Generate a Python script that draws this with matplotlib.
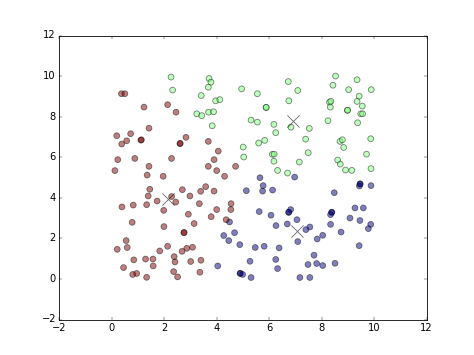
import matplotlib
matplotlib.use("Agg")
import matplotlib.pyplot as plt
import numpy as np

plt.style.use('classic')

red_x = [0.37, 0.50, 1.23, 2.13, 2.45, 1.42, 0.72, 0.19, 0.57, 0.38, 1.11, 1.13, 2.60, 2.61,
         2.83, 0.23, 0.88, 2.28, 1.42, 0.12, 1.35, 1.96, 3.68, 4.06, 3.90, 3.68, 4.00, 4.30,
         4.72, 1.45, 1.39, 1.73, 2.28, 2.44, 2.69, 2.98, 3.39, 3.58, 3.90, 3.34, 0.39, 0.82,
         1.33, 1.98, 2.92, 4.00, 3.79, 0.78, 3.14, 1.99, 2.75, 2.76, 0.55, 0.21, 0.59, 1.83,
         2.13, 2.68, 2.86, 3.08, 2.38, 0.84, 1.29, 1.57, 2.41, 3.01, 3.40, 1.58, 0.45, 0.80,
         0.95, 1.33, 2.36, 2.51, 3.36, 4.55, 4.54, 4.36]
red_y = [9.13, 9.13, 8.47, 8.59, 8.22, 7.43, 7.16, 7.06, 6.81, 6.65, 6.84, 6.86, 6.67, 6.68,
         6.98, 5.88, 5.94, 5.94, 5.55, 5.34, 5.12, 5.06, 6.78, 6.30, 5.88, 5.55, 5.34, 5.06,
         5.55, 4.42, 4.09, 3.84, 4.06, 3.79, 4.40, 4.09, 4.32, 4.55, 4.33, 3.71, 3.55, 3.64,
         3.66, 3.38, 3.19, 3.42, 3.07, 2.79, 2.73, 2.58, 2.28, 2.29, 1.89, 1.46, 1.55, 1.38,
         1.61, 1.36, 1.51, 1.56, 1.10, 0.94, 0.98, 0.98, 0.84, 0.86, 0.92, 0.64, 0.56, 0.22,
         0.27, 0.08, 0.36, 0.10, 0.33, 3.71, 3.42, 2.92]

green_x = [2.26, 2.32, 3.71, 3.78, 3.68, 3.41, 3.96, 4.12, 3.24, 3.43, 3.69, 3.88, 3.83, 4.95,
           5.55, 6.73, 7.09, 6.75, 5.88, 5.89, 5.31, 5.55, 6.18, 6.83, 7.53, 6.25, 7.39, 5.60,
           5.83, 5.01, 6.12, 6.19, 7.49, 5.03, 6.18, 7.15, 6.32, 6.70, 8.53, 9.35, 8.43, 9.03,
           9.89, 9.43, 8.30, 8.35, 9.35, 8.33, 9.55, 8.98, 8.99, 9.49, 9.56, 9.37, 8.24, 8.70,
           8.79, 9.87, 8.84, 9.71, 8.61, 8.71, 8.91, 9.15, 9.88]
green_y = [9.95, 9.31, 9.88, 9.70, 9.45, 9.04, 8.78, 8.84, 8.14, 8.05, 8.22, 8.24, 7.55, 9.37,
           9.13, 9.73, 9.29, 8.78, 8.45, 8.46, 7.83, 7.73, 7.62, 7.48, 7.42, 7.21, 6.89, 6.70,
           6.83, 6.50, 6.14, 6.15, 6.22, 6.01, 5.80, 5.76, 5.35, 5.22, 10.00, 9.82, 9.55, 9.33,
           9.33, 9.01, 8.71, 8.76, 8.75, 8.47, 8.52, 8.31, 8.32, 8.14, 8.14, 7.70, 7.80, 6.78,
           6.86, 6.91, 6.48, 6.15, 5.86, 5.66, 5.37, 5.35, 5.44]

blue_x = [5.65, 6.97, 5.77, 5.75, 5.13, 6.13, 5.62, 6.07, 6.74, 6.75, 6.82, 6.69, 7.06, 6.26,
          7.40, 7.55, 4.49, 4.68, 4.27, 4.46, 4.88, 5.47, 5.81, 6.38, 7.09, 7.83, 7.71, 5.27,
          6.25, 6.32, 7.48, 7.81, 4.04, 4.89, 4.90, 4.99, 5.31, 7.17, 7.55, 9.46, 9.47, 9.44,
          9.88, 8.48, 9.27, 9.59, 8.38, 8.39, 8.34, 9.08, 9.46, 9.87, 9.78, 8.34, 8.74, 8.04,
          9.43, 8.04, 8.51]
blue_y = [4.99, 5.02, 4.60, 4.33, 4.35, 4.38, 3.32, 3.14, 3.28, 3.29, 3.42, 2.71, 2.92, 2.63,
          2.43, 2.56, 2.81, 2.28, 2.14, 1.89, 1.69, 1.55, 1.61, 1.53, 1.84, 1.97, 1.17, 0.87,
          0.96, 0.51, 0.71, 0.76, 0.64, 0.27, 0.28, 0.22, 0.07, 0.07, 0.07, 4.68, 4.69, 4.58,
          4.60, 4.25, 3.50, 3.50, 3.28, 3.29, 3.17, 3.00, 2.88, 2.69, 2.48, 2.69, 2.31, 2.15,
          1.64, 0.66, 0.77]

centroid_x = [2.15, 6.92, 7.07]
centroid_y = [3.96, 7.77, 2.35]

x = np.array(blue_x + green_x + red_x)
y = np.array(blue_y + green_y + red_y)
labels = np.array([0] * len(blue_x) + [1] * len(green_x) + [2] * len(red_x))

dpi = 59.25
fig = plt.figure(figsize=(474 / dpi, 355 / dpi), dpi=dpi)
ax = fig.add_subplot(111)
ax.scatter(x, y, c=labels, cmap='jet', s=50, alpha=0.5)
ax.scatter(centroid_x, centroid_y, marker='x', s=220, c='k', linewidths=1, alpha=0.6)
ax.set_xlim(-2, 12)
ax.set_ylim(-2, 12)
fig.savefig('out.png', dpi=dpi)
